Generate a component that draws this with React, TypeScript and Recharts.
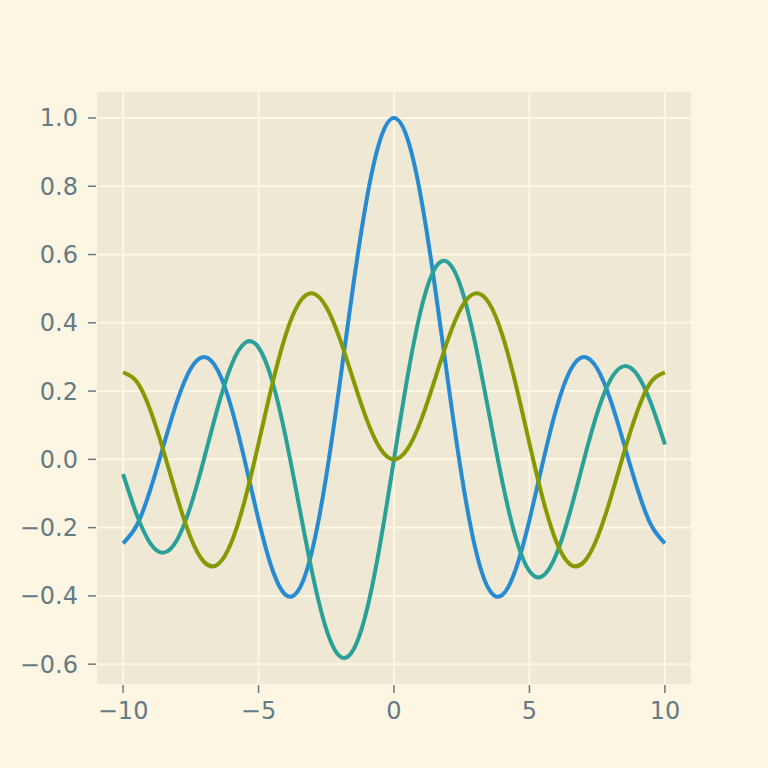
import { LineChart, Line, XAxis, YAxis, CartesianGrid } from "recharts";

const xValues = [
  -10, -9.5, -9, -8.5, -8, -7.5, -7, -6.5, -6, -5.5, -5, -4.5, -4, -3.5, -3, -2.5, -2, -1.5, -1, -0.5,
  0, 0.5, 1, 1.5, 2, 2.5, 3, 3.5, 4, 4.5, 5, 5.5, 6, 6.5, 7, 7.5, 8, 8.5, 9, 9.5, 10,
];

// blue curve
const blueValues = [
  -0.2459, -0.1939, -0.0903, 0.0419, 0.1717, 0.2663, 0.3001, 0.2601, 0.1506, -0.0068, -0.1776,
  -0.3205, -0.3971, -0.3801, -0.2601, -0.0484, 0.2239, 0.5118, 0.7652, 0.9385, 1.0, 0.9385, 0.7652,
  0.5118, 0.2239, -0.0484, -0.2601, -0.3801, -0.3971, -0.3205, -0.1776, -0.0068, 0.1506, 0.2601,
  0.3001, 0.2663, 0.1717, 0.0419, -0.0903, -0.1939, -0.2459,
];

// teal curve
const tealValues = [
  -0.0435, -0.1613, -0.2453, -0.2731, -0.2346, -0.1352, 0.0047, 0.1538, 0.2767, 0.3414, 0.3276,
  0.2311, 0.066, -0.1374, -0.3391, -0.4971, -0.5767, -0.5579, -0.4401, -0.2423, 0, 0.2423, 0.4401,
  0.5579, 0.5767, 0.4971, 0.3391, 0.1374, -0.066, -0.2311, -0.3276, -0.3414, -0.2767, -0.1538,
  -0.0047, 0.1352, 0.2346, 0.2731, 0.2453, 0.1613, 0.0435,
];

// olive curve
const oliveValues = [
  0.2546, 0.2279, 0.1448, 0.0223, -0.113, -0.2303, -0.3014, -0.3074, -0.2429, -0.1173, 0.0466,
  0.2178, 0.3641, 0.4586, 0.4861, 0.4461, 0.3528, 0.2321, 0.1149, 0.0306, 0, 0.0306, 0.1149, 0.2321,
  0.3528, 0.4461, 0.4861, 0.4586, 0.3641, 0.2178, 0.0466, -0.1173, -0.2429, -0.3074, -0.3014,
  -0.2303, -0.113, 0.0223, 0.1448, 0.2279, 0.2546,
];

const xTicks = [-10, -5, 0, 5, 10];
const yTicks = [-0.6, -0.4, -0.2, 0, 0.2, 0.4, 0.6, 0.8, 1.0];

const data = xValues.map((x, i) => ({
  x,
  blue: blueValues[i],
  teal: tealValues[i],
  olive: oliveValues[i],
}));

const tickColor = "#657b83";
const fmt = (v: number, digits: number) => v.toFixed(digits).replace("-", "\u2212");

export default function App() {
  return (
    <div
      style={{
        position: "fixed",
        top: 0,
        left: 0,
        width: 768,
        height: 768,
        background: "#FDF6E3",
        fontFamily: "DejaVu Sans",
      }}
    >
      <LineChart
        width={768}
        height={768}
        data={data}
        margin={{ top: 91, right: 76, left: 36, bottom: 43 }}
      >
        <CartesianGrid stroke="#FDF6E3" strokeWidth={2} fill="#EEE8D5" />
        <XAxis
          dataKey="x"
          type="number"
          domain={[-11, 11]}
          ticks={xTicks}
          height={40}
          axisLine={false}
          tickSize={8}
          tickMargin={9}
          tickLine={{ stroke: tickColor, strokeWidth: 1.5 }}
          tick={{ fill: tickColor, fontSize: 24 }}
          tickFormatter={(v) => fmt(v, 0)}
        />
        <YAxis
          type="number"
          domain={[-0.661, 1.079]}
          ticks={yTicks}
          width={60}
          axisLine={false}
          tickSize={8}
          tickMargin={10}
          tickLine={{ stroke: tickColor, strokeWidth: 1.5 }}
          tick={{ fill: tickColor, fontSize: 24 }}
          tickFormatter={(v) => fmt(v, 1)}
        />
        <Line type="natural" dataKey="blue" stroke="#268BD2" strokeWidth={4} dot={false} isAnimationActive={false} />
        <Line type="natural" dataKey="teal" stroke="#2AA198" strokeWidth={4} dot={false} isAnimationActive={false} />
        <Line type="natural" dataKey="olive" stroke="#859900" strokeWidth={4} dot={false} isAnimationActive={false} />
      </LineChart>
    </div>
  );
}
